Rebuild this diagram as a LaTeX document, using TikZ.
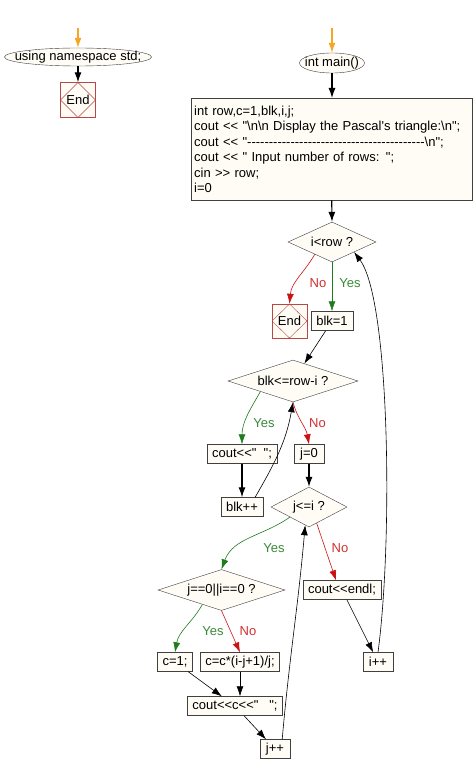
\documentclass[tikz,border=0pt]{standalone}
\usepackage{fontspec}
\newfontfamily\chartfont{Liberation Sans}
\usetikzlibrary{calc,shapes.geometric,arrows.meta}

\definecolor{cream}{HTML}{FFFCF5}
\definecolor{edgegray}{HTML}{404040}
\definecolor{endred}{HTML}{B84848}
\definecolor{yesgreen}{HTML}{1E7B1E}
\definecolor{yeslabel}{HTML}{3A8A3A}
\definecolor{nored}{HTML}{CC1111}
\definecolor{nolabel}{HTML}{D03030}
\definecolor{startorange}{HTML}{F5A623}

\tikzset{
  term/.style={ellipse,draw=edgegray,fill=cream,inner sep=0pt},
  proc/.style={rectangle,draw=edgegray,fill=cream,inner xsep=5pt,inner ysep=0pt,
    minimum width=30pt,minimum height=19pt},
  decide/.style={diamond,draw=edgegray,fill=cream,inner sep=0pt,shape aspect=2.5},
  endbox/.style={rectangle,draw=endred,fill=cream,minimum width=35pt,minimum height=35pt,
    inner sep=0pt,
    path picture={\draw[endred] (path picture bounding box.north)
      -- (path picture bounding box.east) -- (path picture bounding box.south)
      -- (path picture bounding box.west) -- cycle;}},
  flow/.style={draw=black,line width=0.6pt,-{Latex[length=10pt,width=7pt]}},
  heavy flow/.style={flow,line width=1.1pt},
  yesline/.style={flow,draw=yesgreen},
  noline/.style={flow,draw=nored},
  startline/.style={flow,draw=startorange,line width=1.2pt},
  yeslbl/.style={text=yeslabel},
  nolbl/.style={text=nolabel}
}

\begin{document}
\begin{tikzpicture}[x=1pt,y=1pt,font=\chartfont\fontsize{13pt}{15.5pt}\selectfont]

% Page size.
\useasboundingbox[fill=white] (0,0) rectangle (474,-773);

% Namespace part.
\coordinate (start1) at (78,-28);
\node[term,minimum width=147pt,minimum height=18pt,
  label={[name=nslbl]center:using namespace std;}] (ns) at (78,-57) {};
\node[endbox] (end1) at (78,-100) {End};

\draw[startline] (start1) -- (ns);
\draw[heavy flow] (ns) -- (end1);

% Main part.
\coordinate (start2) at (332,-28);
\node[term,minimum width=65pt,minimum height=20pt,
  label={[name=mainlbl]center:int main()}] (main) at (332,-63) {};
\node[proc,anchor=north west,text width=275pt,align=left,inner xsep=3pt,inner ysep=3pt,
  minimum height=102pt] (init) at (191,-98) {int row,c=1,blk,i,j;\\
cout << "\textbackslash n\textbackslash n Display the Pascal's triangle:\textbackslash n";\\
cout << "-----------------------------------------\textbackslash n";\\
cout << " Input number of rows: ";\\
cin >> row;\\
i=0};

\draw[startline] (start2) -- (main);
\draw[heavy flow] (main) -- (main |- init.north);

% Outer loop test.
\node[decide,minimum width=88pt,minimum height=40pt] (cond1) at (332,-242) {i<row ?};
\node[endbox,minimum height=34pt] (end2) at (289.5,-321) {End};
\node[proc] (blk1) at (332,-321) {blk=1};

\draw[heavy flow] (init.south) -- (cond1.north);
\draw[noline] ($(cond1.south)!0.39!(cond1.west)$) to[out=240,in=85] (end2.north);
\draw[yesline] (cond1.south) -- (blk1.north);
\node[nolbl] (no1) at (318,-283) {No};
\node[yeslbl] (yes1) at (350,-283) {Yes};

% Blank loop.
\node[decide,minimum width=130pt,minimum height=42pt] (cond2) at (293,-381) {blk<=row-i ?};
\node[proc] (cout1) at (242,-454) {cout<<"\ \ ";};
\node[proc] (j0) at (309,-454) {j=0};
\node[proc] (blk2) at (242,-507) {blk++};

\draw[flow] (blk1) -- (cond2);
\draw[yesline] (cond2.south west) to[out=240,in=90] (cout1.north);
\draw[noline] (cond2.south) to[out=-75,in=100] (j0.north);
\node[yeslbl] (yes2) at (264,-423) {Yes};
\node[nolbl] (no2) at (317.5,-423) {No};
\draw[heavy flow] (cout1) -- (blk2);
\draw[flow] ($(blk2.north east)+(-8,0)$) to[out=60,in=-100] (cond2.south);

% Inner loop test.
\node[decide,minimum width=76pt,minimum height=40pt] (cond3) at (309,-507) {j<=i ?};
\node[proc] (cout2) at (342,-590) {cout<<endl;};
\node[proc] (ip) at (378,-662) {i++};

\draw[heavy flow] (j0) -- (cond3);
\draw[noline] ($(cond3.south)!0.2!(cond3.east)$) -- ([xshift=-6pt]cout2.north);
\node[yeslbl] (yes3) at (274,-548) {Yes};
\node[nolbl] (no3) at (340,-548) {No};
\draw[flow] (cout2) -- (ip);
\draw[flow] (ip.north) .. controls (393,-540) and (390,-300) .. (cond1.south east);

% Value of c.
\node[decide,minimum width=127pt,minimum height=41pt] (cond4) at (221.5,-590) {j==0||i==0 ?};
\node[proc] (c1) at (175,-662) {c=1;};
\node[proc] (c2) at (240,-662) {c=c*(i-j+1)/j;};
\node[proc] (cout3) at (235,-706) {cout<<c<<"\ \ \ ";};
\node[proc] (jp) at (275,-749) {j++};

\draw[yesline] (cond3.south west) to[out=215,in=70] (cond4.north);
\draw[yesline] ($(cond4.south)!0.3!(cond4.west)$) to[out=240,in=80] (c1.north);
\draw[noline] (cond4.south) -- (c2.north);
\node[yeslbl] (yes4) at (213,-631) {Yes};
\node[nolbl] (no4) at (248,-631) {No};
\draw[flow] (c1) -- (cout3);
\draw[flow] (c2) -- (c2 |- cout3.north);
\draw[flow] (cout3) -- (jp);
\draw[flow] ($(jp.north east)+(-8,0)$) to[out=85,in=-95] ($(cond3.south)!0.1!(cond3.west)$);

\end{tikzpicture}
\end{document}
